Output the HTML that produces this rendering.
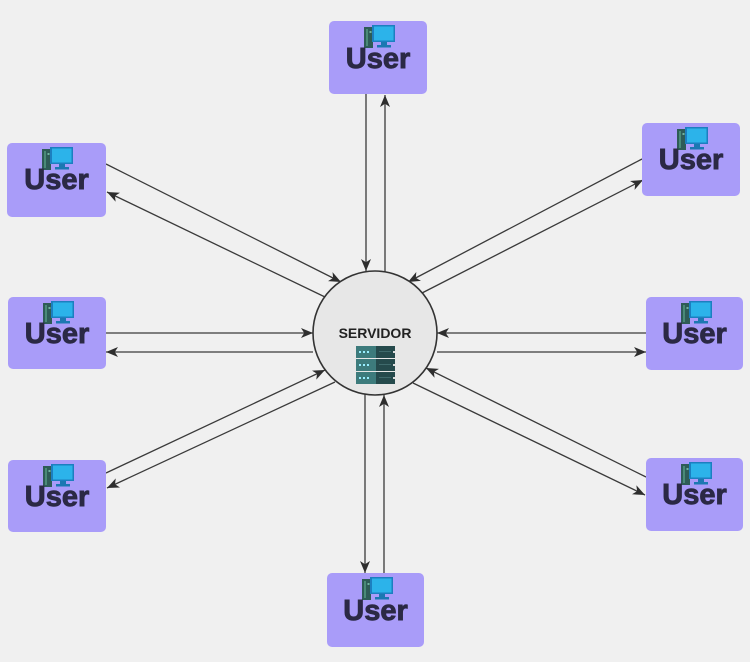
<!DOCTYPE html>
<html>
<head>
<meta charset="utf-8">
<style>
  html, body { margin: 0; padding: 0; background: #f0f0f0; }
  svg { display: block; }
  .u { font-family: "Liberation Sans", sans-serif; font-weight: bold; font-size: 29px; fill: #2b2945; stroke: #2b2945; stroke-width: 0.9; }
  .s { font-family: "Liberation Sans", sans-serif; font-weight: bold; font-size: 14px; fill: #222; }
  line { stroke: #3a3a3a; stroke-width: 1.3; }
</style>
</head>
<body>
<svg width="750" height="662" viewBox="0 0 750 662" xmlns="http://www.w3.org/2000/svg">
  <defs>
    <marker id="ah" markerUnits="userSpaceOnUse" markerWidth="13" markerHeight="12" refX="12" refY="5.5" orient="auto">
      <path d="M0,0.5 L12,5.5 L0,10.5 L3.2,5.5 z" fill="#2e2e2e"/>
    </marker>
    <g id="pc">
      <rect x="0" y="2" width="9" height="21" fill="#2e5c57"/>
      <rect x="2" y="4" width="2" height="17" fill="#4a8a78"/>
      <rect x="5.5" y="6" width="2" height="2" fill="#6fb3a0"/>
      <rect x="8" y="0" width="23" height="17" fill="#1c7fc0"/>
      <rect x="10" y="1.5" width="19.5" height="14" fill="#2cb3ea"/>
      <rect x="17" y="17" width="6" height="3.5" fill="#1c78b2"/>
      <rect x="13" y="20" width="14" height="2.5" fill="#1c78b2"/>
    </g>
  </defs>

  <rect width="750" height="662" fill="#f0f0f0"/>

  <!-- connectors -->
  <line x1="366" y1="94" x2="366" y2="271" marker-end="url(#ah)"/>
  <line x1="385" y1="272" x2="385" y2="95" marker-end="url(#ah)"/>

  <line x1="106" y1="164" x2="341" y2="282" marker-end="url(#ah)"/>
  <line x1="325" y1="297" x2="107" y2="192" marker-end="url(#ah)"/>

  <line x1="642" y1="159" x2="408" y2="282" marker-end="url(#ah)"/>
  <line x1="422" y1="293" x2="643" y2="180" marker-end="url(#ah)"/>

  <line x1="106" y1="333" x2="313" y2="333" marker-end="url(#ah)"/>
  <line x1="313" y1="352" x2="106" y2="352" marker-end="url(#ah)"/>

  <line x1="646" y1="333" x2="437" y2="333" marker-end="url(#ah)"/>
  <line x1="437" y1="352" x2="646" y2="352" marker-end="url(#ah)"/>

  <line x1="106" y1="473" x2="325" y2="370" marker-end="url(#ah)"/>
  <line x1="335" y1="382" x2="107" y2="488" marker-end="url(#ah)"/>

  <line x1="646" y1="477" x2="426" y2="368" marker-end="url(#ah)"/>
  <line x1="413" y1="383" x2="645" y2="495" marker-end="url(#ah)"/>

  <line x1="365" y1="394" x2="365" y2="573" marker-end="url(#ah)"/>
  <line x1="384" y1="573" x2="384" y2="395" marker-end="url(#ah)"/>

  <!-- server -->
  <circle cx="375" cy="333" r="62" fill="#e7e7e7" stroke="#333" stroke-width="1.6"/>
  <text class="s" x="375" y="338" text-anchor="middle">SERVIDOR</text>
  <g transform="translate(356,346)">
    <g>
      <rect x="0" y="0" width="20" height="12" fill="#3d7b7c"/>
      <rect x="20" y="0" width="19" height="12" fill="#254a4c"/>
      <rect x="3" y="5" width="2" height="2" fill="#9ef"/>
      <rect x="7" y="5" width="2" height="2" fill="#9ef"/>
      <rect x="11" y="5" width="2" height="2" fill="#9ef"/>
      <rect x="23" y="5" width="12" height="1" fill="#3f6a6c"/>
      <rect x="37" y="5" width="2" height="2" fill="#ddd"/>
    </g>
    <g transform="translate(0,13)">
      <rect x="0" y="0" width="20" height="12" fill="#3d7b7c"/>
      <rect x="20" y="0" width="19" height="12" fill="#254a4c"/>
      <rect x="3" y="5" width="2" height="2" fill="#9ef"/>
      <rect x="7" y="5" width="2" height="2" fill="#9ef"/>
      <rect x="11" y="5" width="2" height="2" fill="#9ef"/>
      <rect x="23" y="5" width="12" height="1" fill="#3f6a6c"/>
      <rect x="37" y="5" width="2" height="2" fill="#ddd"/>
    </g>
    <g transform="translate(0,26)">
      <rect x="0" y="0" width="20" height="12" fill="#3d7b7c"/>
      <rect x="20" y="0" width="19" height="12" fill="#254a4c"/>
      <rect x="3" y="5" width="2" height="2" fill="#9ef"/>
      <rect x="7" y="5" width="2" height="2" fill="#9ef"/>
      <rect x="11" y="5" width="2" height="2" fill="#9ef"/>
      <rect x="23" y="5" width="12" height="1" fill="#3f6a6c"/>
      <rect x="37" y="5" width="2" height="2" fill="#ddd"/>
    </g>
  </g>

  <!-- user boxes -->
  <g transform="translate(329,21)">
    <rect width="98" height="73" rx="5" fill="#a99cf9"/>
    <use href="#pc" x="35" y="4"/>
    <text class="u" x="49" y="47" text-anchor="middle">User</text>
  </g>
  <g transform="translate(7,143)">
    <rect width="99" height="74" rx="5" fill="#a99cf9"/>
    <use href="#pc" x="35" y="4"/>
    <text class="u" x="49.5" y="46" text-anchor="middle">User</text>
  </g>
  <g transform="translate(642,123)">
    <rect width="98" height="73" rx="5" fill="#a99cf9"/>
    <use href="#pc" x="35" y="4"/>
    <text class="u" x="49" y="46" text-anchor="middle">User</text>
  </g>
  <g transform="translate(8,297)">
    <rect width="98" height="72" rx="5" fill="#a99cf9"/>
    <use href="#pc" x="35" y="4"/>
    <text class="u" x="49" y="46" text-anchor="middle">User</text>
  </g>
  <g transform="translate(646,297)">
    <rect width="97" height="73" rx="5" fill="#a99cf9"/>
    <use href="#pc" x="35" y="4"/>
    <text class="u" x="48.5" y="46" text-anchor="middle">User</text>
  </g>
  <g transform="translate(8,460)">
    <rect width="98" height="72" rx="5" fill="#a99cf9"/>
    <use href="#pc" x="35" y="4"/>
    <text class="u" x="49" y="46" text-anchor="middle">User</text>
  </g>
  <g transform="translate(646,458)">
    <rect width="97" height="73" rx="5" fill="#a99cf9"/>
    <use href="#pc" x="35" y="4"/>
    <text class="u" x="48.5" y="46" text-anchor="middle">User</text>
  </g>
  <g transform="translate(327,573)">
    <rect width="97" height="74" rx="5" fill="#a99cf9"/>
    <use href="#pc" x="35" y="4"/>
    <text class="u" x="48.5" y="47" text-anchor="middle">User</text>
  </g>
</svg>
</body>
</html>
